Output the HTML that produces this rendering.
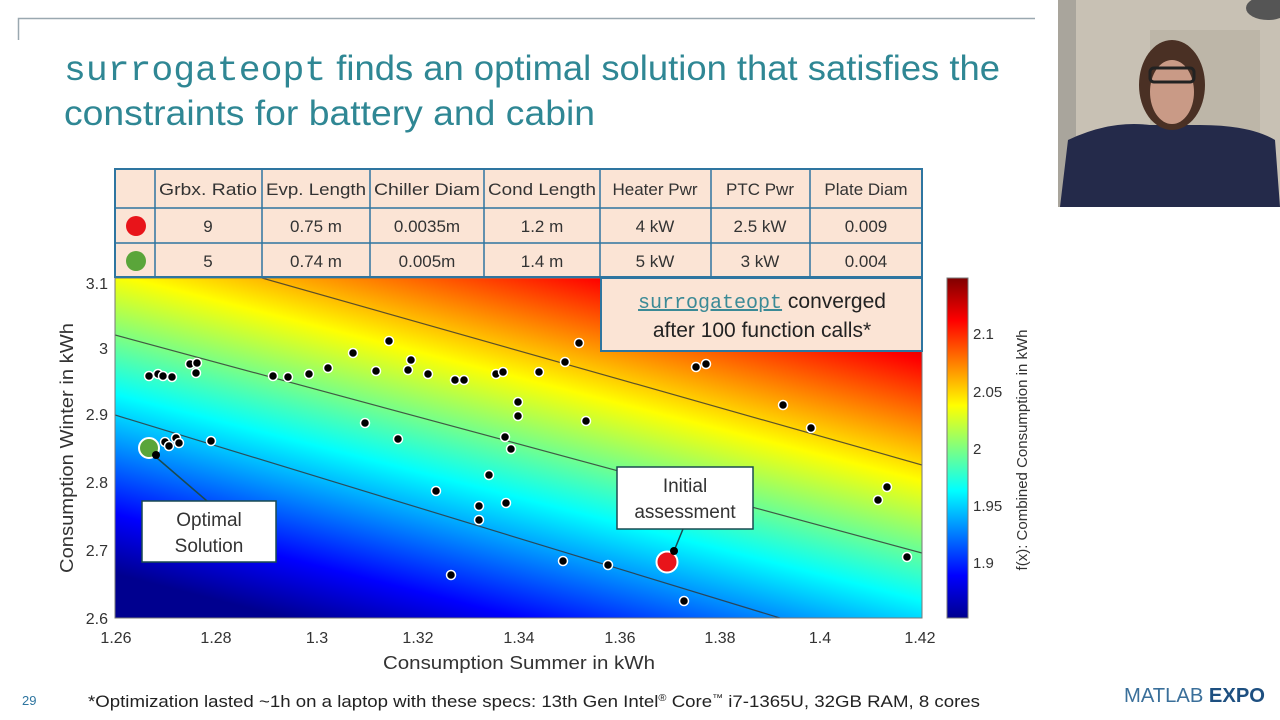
<!DOCTYPE html>
<html><head><meta charset="utf-8"><style>
html,body{margin:0;padding:0;background:#fff;width:1280px;height:720px;overflow:hidden}
svg{display:block}
text{font-family:"Liberation Sans",sans-serif}
</style></head><body>
<svg width="1280" height="720" viewBox="0 0 1280 720" xmlns="http://www.w3.org/2000/svg">
<defs>
<linearGradient id="jet" gradientUnits="userSpaceOnUse" x1="60" y1="560" x2="175" y2="110">
<stop offset="0" stop-color="#00008f"/><stop offset="0.125" stop-color="#0000ff"/>
<stop offset="0.375" stop-color="#00ffff"/><stop offset="0.625" stop-color="#ffff00"/>
<stop offset="0.875" stop-color="#ff0000"/><stop offset="1" stop-color="#800000"/>
</linearGradient>
<linearGradient id="cb" x1="0" y1="1" x2="0" y2="0">
<stop offset="0" stop-color="#00008f"/><stop offset="0.125" stop-color="#0000ff"/>
<stop offset="0.375" stop-color="#00ffff"/><stop offset="0.625" stop-color="#ffff00"/>
<stop offset="0.875" stop-color="#ff0000"/><stop offset="1" stop-color="#800000"/>
</linearGradient>
<clipPath id="pc"><rect x="115" y="278" width="807" height="340"/></clipPath>
</defs>
<path d="M18.5 40 V18.5 H1035" stroke="#9aa8b0" stroke-width="1.5" fill="none"/>
<text x="64" y="80" font-size="35" fill="#2f8794" textLength="936" lengthAdjust="spacingAndGlyphs"><tspan font-family="Liberation Mono,monospace">surrogateopt</tspan> finds an optimal solution that satisfies the</text>
<text x="64" y="125" font-size="35" fill="#2f8794" textLength="531" lengthAdjust="spacingAndGlyphs">constraints for battery and cabin</text>

<g clip-path="url(#pc)">
<rect x="115" y="278" width="807" height="340" fill="url(#jet)"/>
<g stroke="#333" stroke-width="1.2" opacity="0.8">
<line x1="262" y1="278" x2="922" y2="465"/>
<line x1="115" y1="335" x2="922" y2="553"/>
<line x1="115" y1="415" x2="780" y2="618"/>
</g>
</g>
<rect x="115" y="278" width="807" height="340" fill="none" stroke="#777" stroke-width="1"/>
<g font-size="16" fill="#333" text-anchor="end">
<text x="108" y="289">3.1</text><text x="108" y="354">3</text><text x="108" y="420">2.9</text>
<text x="108" y="488">2.8</text><text x="108" y="556">2.7</text><text x="108" y="624">2.6</text>
</g>
<g font-size="16" fill="#333" text-anchor="middle">
<text x="116" y="643">1.26</text><text x="216" y="643">1.28</text><text x="317" y="643">1.3</text>
<text x="418" y="643">1.32</text><text x="519" y="643">1.34</text><text x="620" y="643">1.36</text>
<text x="720" y="643">1.38</text><text x="820" y="643">1.4</text><text x="920" y="643">1.42</text>
</g>
<text x="519" y="669" font-size="18" fill="#333" text-anchor="middle" textLength="272" lengthAdjust="spacingAndGlyphs">Consumption Summer in kWh</text>
<text transform="translate(73,448) rotate(-90)" font-size="18" fill="#333" text-anchor="middle" textLength="250" lengthAdjust="spacingAndGlyphs">Consumption Winter in kWh</text>

<line x1="150" y1="452" x2="207" y2="501" stroke="#1a4a50" stroke-width="1.5"/>
<line x1="683" y1="529" x2="674" y2="551" stroke="#1a4a50" stroke-width="1.5"/>

<g fill="#000" stroke="#fff" stroke-width="1.5">
<circle cx="149" cy="376" r="4.5"/><circle cx="158" cy="374" r="4.5"/><circle cx="163" cy="376" r="4.5"/><circle cx="172" cy="377" r="4.5"/>
<circle cx="190" cy="364" r="4.5"/><circle cx="197" cy="363" r="4.5"/><circle cx="196" cy="373" r="4.5"/><circle cx="273" cy="376" r="4.5"/>
<circle cx="288" cy="377" r="4.5"/><circle cx="309" cy="374" r="4.5"/><circle cx="328" cy="368" r="4.5"/><circle cx="353" cy="353" r="4.5"/>
<circle cx="376" cy="371" r="4.5"/><circle cx="389" cy="341" r="4.5"/><circle cx="411" cy="360" r="4.5"/><circle cx="408" cy="370" r="4.5"/>
<circle cx="428" cy="374" r="4.5"/><circle cx="455" cy="380" r="4.5"/><circle cx="464" cy="380" r="4.5"/><circle cx="496" cy="374" r="4.5"/>
<circle cx="503" cy="372" r="4.5"/><circle cx="518" cy="402" r="4.5"/><circle cx="518" cy="416" r="4.5"/><circle cx="365" cy="423" r="4.5"/>
<circle cx="398" cy="439" r="4.5"/><circle cx="505" cy="437" r="4.5"/><circle cx="511" cy="449" r="4.5"/><circle cx="489" cy="475" r="4.5"/>
<circle cx="436" cy="491" r="4.5"/><circle cx="479" cy="506" r="4.5"/><circle cx="479" cy="520" r="4.5"/><circle cx="506" cy="503" r="4.5"/>
<circle cx="451" cy="575" r="4.5"/><circle cx="211" cy="441" r="4.5"/><circle cx="165" cy="442" r="4.5"/><circle cx="176" cy="438" r="4.5"/>
<circle cx="169" cy="446" r="4.5"/><circle cx="179" cy="443" r="4.5"/>
<circle cx="579" cy="343" r="4.5"/><circle cx="565" cy="362" r="4.5"/><circle cx="539" cy="372" r="4.5"/><circle cx="696" cy="367" r="4.5"/>
<circle cx="706" cy="364" r="4.5"/><circle cx="586" cy="421" r="4.5"/><circle cx="783" cy="405" r="4.5"/><circle cx="811" cy="428" r="4.5"/>
<circle cx="887" cy="487" r="4.5"/><circle cx="878" cy="500" r="4.5"/><circle cx="907" cy="557" r="4.5"/><circle cx="563" cy="561" r="4.5"/>
<circle cx="608" cy="565" r="4.5"/><circle cx="684" cy="601" r="4.5"/>
</g>
<circle cx="149" cy="448" r="10" fill="#5aa53a" stroke="#fff" stroke-width="2"/>
<circle cx="156" cy="455" r="4" fill="#000"/>
<circle cx="667" cy="562" r="10.5" fill="#e8141a" stroke="#fff" stroke-width="2"/>
<circle cx="674" cy="551" r="4" fill="#000"/>

<rect x="142" y="501" width="134" height="61" fill="#fff" stroke="#1a4a50" stroke-width="1.5"/>
<text x="209" y="526" font-size="19" fill="#333" text-anchor="middle">Optimal</text>
<text x="209" y="552" font-size="19" fill="#333" text-anchor="middle">Solution</text>
<rect x="617" y="467" width="136" height="62" fill="#fff" stroke="#1a4a50" stroke-width="1.5"/>
<text x="685" y="492" font-size="19" fill="#333" text-anchor="middle">Initial</text>
<text x="685" y="518" font-size="19" fill="#333" text-anchor="middle">assessment</text>
<rect x="601" y="278" width="321" height="73" fill="#fbe4d5" stroke="#2e75a0" stroke-width="2"/>
<text x="762" y="308" font-size="21" fill="#222" text-anchor="middle"><tspan font-family="Liberation Mono,monospace" font-size="20" fill="#3b8a96" text-decoration="underline">surrogateopt</tspan> converged</text>
<text x="762" y="337" font-size="21" fill="#222" text-anchor="middle">after 100 function calls*</text>

<rect x="115" y="169" width="807" height="108" fill="#fbe4d5" stroke="#2e75a0" stroke-width="2"/>
<g stroke="#2e75a0" stroke-width="1.5">
<line x1="115" y1="208" x2="922" y2="208"/><line x1="115" y1="243" x2="922" y2="243"/>
<line x1="155" y1="169" x2="155" y2="277"/><line x1="262" y1="169" x2="262" y2="277"/>
<line x1="370" y1="169" x2="370" y2="277"/><line x1="484" y1="169" x2="484" y2="277"/>
<line x1="600" y1="169" x2="600" y2="277"/><line x1="711" y1="169" x2="711" y2="277"/>
<line x1="810" y1="169" x2="810" y2="277"/>
</g>
<g font-size="17" fill="#333" text-anchor="middle">
<text x="208" y="195" textLength="98" lengthAdjust="spacingAndGlyphs">Grbx. Ratio</text><text x="316" y="195" textLength="100" lengthAdjust="spacingAndGlyphs">Evp. Length</text><text x="427" y="195" textLength="106" lengthAdjust="spacingAndGlyphs">Chiller Diam</text>
<text x="542" y="195" textLength="108" lengthAdjust="spacingAndGlyphs">Cond Length</text><text x="655" y="195">Heater Pwr</text><text x="760" y="195">PTC Pwr</text><text x="866" y="195">Plate Diam</text>
<text x="208" y="232">9</text><text x="316" y="232">0.75 m</text><text x="427" y="232">0.0035m</text>
<text x="542" y="232">1.2 m</text><text x="655" y="232">4 kW</text><text x="760" y="232">2.5 kW</text><text x="866" y="232">0.009</text>
<text x="208" y="267">5</text><text x="316" y="267">0.74 m</text><text x="427" y="267">0.005m</text>
<text x="542" y="267">1.4 m</text><text x="655" y="267">5 kW</text><text x="760" y="267">3 kW</text><text x="866" y="267">0.004</text>
</g>
<circle cx="136" cy="226" r="10" fill="#e8141a"/>
<circle cx="136" cy="261" r="10" fill="#5aa53a"/>

<rect x="947" y="278" width="21" height="340" fill="url(#cb)" stroke="#777" stroke-width="1"/>
<g font-size="15" fill="#333">
<text x="973" y="339">2.1</text><text x="973" y="397">2.05</text><text x="973" y="454">2</text>
<text x="973" y="511">1.95</text><text x="973" y="568">1.9</text>
</g>
<text transform="translate(1027,450) rotate(-90)" font-size="15" fill="#333" text-anchor="middle">f(x): Combined Consumption in kWh</text>

<text x="22" y="705" font-size="13" fill="#2e75a0">29</text>
<text x="88" y="707" font-size="17" fill="#222" textLength="892" lengthAdjust="spacingAndGlyphs">*Optimization lasted ~1h on a laptop with these specs: 13th Gen Intel<tspan font-size="10" dy="-6">®</tspan><tspan dy="6"> Core</tspan><tspan font-size="10" dy="-6">™</tspan><tspan dy="6"> i7-1365U, 32GB RAM, 8 cores</tspan></text>
<text x="1124" y="702" font-size="20" fill="#3a6f9a" textLength="141" lengthAdjust="spacingAndGlyphs">MATLAB <tspan font-weight="bold" fill="#1d4f80">EXPO</tspan></text>

<rect x="1058" y="0" width="222" height="207" fill="#c8c1b4"/>
<rect x="1058" y="0" width="18" height="207" fill="#a9a59c"/>
<rect x="1150" y="30" width="110" height="130" fill="#bdb6a8"/>
<ellipse cx="1268" cy="8" rx="22" ry="12" fill="#555"/>
<path d="M1060 207 L1068 140 Q1110 120 1150 125 L1200 125 Q1250 125 1275 140 L1280 207 Z" fill="#242a4a"/>
<ellipse cx="1172" cy="85" rx="33" ry="45" fill="#4a3024"/>
<ellipse cx="1172" cy="92" rx="22" ry="32" fill="#c99a86"/>
<rect x="1150" y="68" width="44" height="14" rx="4" fill="none" stroke="#222" stroke-width="3"/>
</svg>
</body></html>
